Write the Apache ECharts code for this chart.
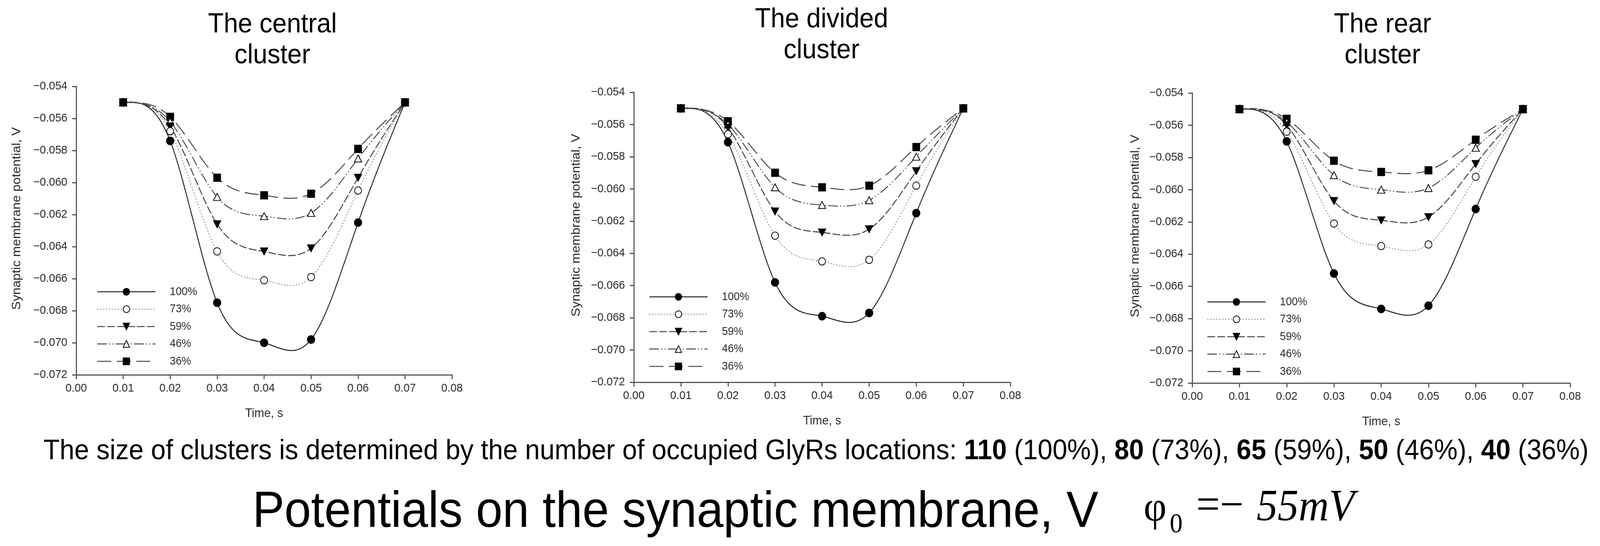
<!DOCTYPE html>
<html>
<head>
<meta charset="utf-8">
<script src="https://cdn.jsdelivr.net/npm/echarts@6/dist/echarts.min.js"></script>
<style>
html,body{margin:0;padding:0;background:#fff;overflow:hidden;}
#c{width:4347px;height:1397px;transform-origin:0 0;}
</style>
</head>
<body>
<div id="c"></div>
<script>
// ---------- data ----------
const times = [0.01, 0.02, 0.03, 0.04, 0.05, 0.06, 0.07];
const seriesNames = ['100%', '73%', '59%', '46%', '36%'];
const panelTitles = ['The central\ncluster', 'The divided\ncluster', 'The rear\ncluster'];

const central100 = [-0.0550, -0.0574, -0.0675, -0.0700, -0.0698, -0.0625, -0.0550];
const central73  = [-0.0550, -0.0568, -0.0643, -0.0661, -0.0659, -0.0605, -0.0550];
const central59  = [-0.0550, -0.0565, -0.0626, -0.0643, -0.0641, -0.0597, -0.0550];
const central46  = [-0.0550, -0.0562, -0.0609, -0.0621, -0.0619, -0.0585, -0.0550];
const central36  = [-0.0550, -0.0559, -0.0597, -0.0608, -0.0607, -0.0579, -0.0550];

const divided100 = [-0.0550, -0.0571, -0.0658, -0.0679, -0.0677, -0.0615, -0.0550];
const divided73  = [-0.0550, -0.0566, -0.0629, -0.0645, -0.0644, -0.0598, -0.0550];
const divided59  = [-0.0550, -0.0562, -0.0614, -0.0627, -0.0625, -0.0589, -0.0550];
const divided46  = [-0.0550, -0.0560, -0.0599, -0.0610, -0.0607, -0.0580, -0.0550];
const divided36  = [-0.0550, -0.0558, -0.0590, -0.0599, -0.0598, -0.0574, -0.0550];

const rear100 = [-0.0550, -0.0570, -0.0652, -0.0674, -0.0672, -0.0612, -0.0550];
const rear73  = [-0.0550, -0.0564, -0.0621, -0.0635, -0.0634, -0.0592, -0.0550];
const rear59  = [-0.0550, -0.0560, -0.0607, -0.0619, -0.0617, -0.0584, -0.0550];
const rear46  = [-0.0550, -0.0558, -0.0591, -0.0600, -0.0599, -0.0574, -0.0550];
const rear36  = [-0.0550, -0.0556, -0.0582, -0.0589, -0.0588, -0.0569, -0.0550];

const panelValues = [
  [central100, central73, central59, central46, central36],
  [divided100, divided73, divided59, divided46, divided36],
  [rear100, rear73, rear59, rear46, rear36]
];

// ---------- layout & style (designed on the 4347 x 1397 reference canvas) ----------
const DESIGN_W = 4347, DESIGN_H = 1397;
const FONT = "'Liberation Sans', Arial, Helvetica, sans-serif";
const SERIF = "'Liberation Serif', 'Times New Roman', Times, serif";
const gridPos = [
  {left: 207, top: 221, width: 1021, height: 738},
  {left: 1722, top: 236, width: 1023, height: 742},
  {left: 3239, top: 238, width: 1027, height: 742}
];
const titlePos = [{left: 740, top: 24}, {left: 2232, top: 11}, {left: 3756, top: 24}];
const legendPos = [{left: 263, top: 732}, {left: 1763, top: 745}, {left: 3279, top: 758}];
const yNameGap = [145, 140, 138];

const looks = [
  {symbol: 'circle', size: 20, fill: '#000', line: '#222', width: 2.5, dash: 'solid'},
  {symbol: 'circle', size: 19, fill: '#fff', line: '#888', width: 2.4, dash: [3, 5]},
  {symbol: 'path://M0,0L20,0L10,18Z', size: [20, 18], fill: '#000', line: '#444', width: 2.6, dash: [21, 6]},
  {symbol: 'triangle', size: [20, 18], fill: '#fff', line: '#444', width: 2.4, dash: [26, 6, 3, 6, 3, 6]},
  {symbol: 'rect', size: 19, fill: '#000', line: '#4a4a4a', width: 2.6, dash: [38, 15]}
];
const axisGray = '#555';
const labelGray = '#2a2a2a';

// natural cubic spline through the data points -> bezier segments (data space)
function splineSegments(xs, ys) {
  const n = xs.length;
  const h = [];
  for (let i = 0; i < n - 1; i++) h.push(xs[i + 1] - xs[i]);
  const M = new Array(n).fill(0);
  if (n > 2) {
    const a = [], b = [], c = [], d = [];
    for (let i = 1; i < n - 1; i++) {
      a.push(h[i - 1]); b.push(2 * (h[i - 1] + h[i])); c.push(h[i]);
      d.push(6 * ((ys[i + 1] - ys[i]) / h[i] - (ys[i] - ys[i - 1]) / h[i - 1]));
    }
    const m = b.length;
    for (let i = 1; i < m; i++) {
      const w = a[i] / b[i - 1];
      b[i] -= w * c[i - 1];
      d[i] -= w * d[i - 1];
    }
    const sol = new Array(m);
    sol[m - 1] = d[m - 1] / b[m - 1];
    for (let i = m - 2; i >= 0; i--) sol[i] = (d[i] - c[i] * sol[i + 1]) / b[i];
    for (let i = 0; i < m; i++) M[i + 1] = sol[i];
  }
  const segs = [];
  for (let i = 0; i < n - 1; i++) {
    const s = (ys[i + 1] - ys[i]) / h[i];
    const d0 = s - h[i] * (2 * M[i] + M[i + 1]) / 6;
    const d1 = s + h[i] * (M[i] + 2 * M[i + 1]) / 6;
    segs.push({
      c1: [xs[i] + h[i] / 3, ys[i] + d0 * h[i] / 3],
      c2: [xs[i + 1] - h[i] / 3, ys[i + 1] - d1 * h[i] / 3],
      end: [xs[i + 1], ys[i + 1]]
    });
  }
  return segs;
}

const grids = gridPos.map(g => Object.assign({containLabel: false}, g));

const xAxes = gridPos.map((g, k) => ({
  type: 'value', gridIndex: k, min: 0, max: 0.08, interval: 0.01,
  name: 'Time, s', nameLocation: 'middle', nameGap: 83,
  nameTextStyle: {fontSize: 32, color: labelGray, fontFamily: FONT},
  axisLine: {show: true, onZero: false, lineStyle: {color: axisGray, width: 3}},
  axisTick: {show: true, length: 11, lineStyle: {color: axisGray, width: 3}},
  axisLabel: {fontSize: 30, color: labelGray, fontFamily: FONT, margin: 20,
    formatter: v => v.toFixed(2)},
  splitLine: {show: false}
}));

const yAxes = gridPos.map((g, k) => ({
  type: 'value', gridIndex: k, min: -0.072, max: -0.054, interval: 0.002,
  name: 'Synaptic membrane potential, V', nameLocation: 'middle', nameRotate: 90,
  nameGap: yNameGap[k],
  nameTextStyle: {fontSize: 33, color: labelGray, fontFamily: FONT, padding: [0, 0, 0, 62]},
  axisLine: {show: true, onZero: false, lineStyle: {color: axisGray, width: 3}},
  axisTick: {show: true, length: 11, lineStyle: {color: axisGray, width: 3}},
  axisLabel: {fontSize: 30, color: labelGray, fontFamily: FONT, margin: 24,
    formatter: v => '\u2212' + Math.abs(v).toFixed(3)},
  splitLine: {show: false}
}));

const series = [];
panelValues.forEach((vals, k) => {
  vals.forEach((arr, i) => {
    const lk = looks[i];
    const pts = times.map((t, j) => [t, arr[j]]);
    // spline curve through the points
    series.push({
      type: 'custom', xAxisIndex: k, yAxisIndex: k, data: pts,
      encode: {x: 0, y: 1}, silent: true, z: 2,
      renderItem: (params, api) => {
        if (params.dataIndex !== 0) return null;
        const segs = splineSegments(times, arr);
        const p0 = api.coord([times[0], arr[0]]);
        let d = 'M' + p0[0] + ',' + p0[1];
        segs.forEach(s => {
          const a = api.coord(s.c1), b = api.coord(s.c2), e = api.coord(s.end);
          d += 'C' + a[0] + ',' + a[1] + ',' + b[0] + ',' + b[1] + ',' + e[0] + ',' + e[1];
        });
        return {
          type: 'path', shape: {pathData: d},
          style: {stroke: lk.line, lineWidth: lk.width, fill: 'none',
            lineDash: lk.dash === 'solid' ? null : lk.dash}
        };
      }
    });
    // markers
    series.push({
      type: 'line', name: seriesNames[i], xAxisIndex: k, yAxisIndex: k,
      data: pts, smooth: false,
      symbol: lk.symbol, symbolSize: lk.size, showAllSymbol: true,
      lineStyle: {color: lk.line, width: lk.width, type: lk.dash, opacity: 0},
      itemStyle: {color: lk.fill, borderColor: '#000', borderWidth: 2},
      emphasis: {disabled: true},
      z: 3 + (4 - i)
    });
  });
});

const legends = legendPos.map(p => ({
  data: seriesNames.map((n, i) => ({
    name: n,
    lineStyle: {color: looks[i].line, width: looks[i].width, type: looks[i].dash, opacity: 1}
  })),
  orient: 'vertical', left: p.left, top: p.top,
  itemWidth: 158, itemHeight: 22, itemGap: 15.5, padding: 0,
  selectedMode: false,
  textStyle: {fontSize: 29, color: labelGray, fontFamily: FONT, padding: [0, 0, 0, 34]}
}));

const titles = titlePos.map((p, k) => ({
  text: panelTitles[k], left: p.left, top: p.top, textAlign: 'center', padding: 0,
  textStyle: {fontSize: 70, fontWeight: 'normal', color: '#000', fontFamily: FONT, lineHeight: 79}
}));

const graphics = [
  {
    type: 'text', x: 118, y: 1155,
    style: {
      text: 'The size of clusters is determined by the number of occupied GlyRs locations: {b|110} (100%), {b|80} (73%), {b|65} (59%), {b|50} (46%), {b|40} (36%)',
      fontSize: 72, fontFamily: FONT, fill: '#000', verticalAlign: 'middle', align: 'left',
      rich: {b: {fontSize: 72, fontFamily: FONT, fontWeight: 'bold', fill: '#000'}}
    }
  },
  {
    type: 'text', x: 686, y: 1312,
    style: {text: 'Potentials on the synaptic membrane, V', fontSize: 130, fontFamily: FONT,
      fill: '#000', verticalAlign: 'middle', align: 'left'}
  },
  {
    type: 'text', x: 3107, y: 1304,
    style: {text: '\u03C6', fontSize: 108, fontFamily: SERIF, fill: '#000', verticalAlign: 'middle', align: 'left'}
  },
  {
    type: 'text', x: 3178, y: 1344,
    style: {text: '0', fontSize: 70, fontFamily: SERIF, fill: '#000', verticalAlign: 'middle', align: 'left'}
  },
  {
    type: 'text', x: 3250, y: 1298,
    style: {text: '=\u2212', fontSize: 114, fontFamily: SERIF, fill: '#000', verticalAlign: 'middle', align: 'left'}
  },
  {
    type: 'text', x: 3414, y: 1301,
    style: {text: '55mV', fontSize: 114, fontFamily: SERIF, fontStyle: 'italic', fill: '#000', verticalAlign: 'middle', align: 'left'}
  }
];

// fit the reference-sized drawing into the actual browser viewport
const box = document.getElementById('c');
const sx = Math.min(1, window.innerWidth / DESIGN_W);
const sy = Math.min(1, window.innerHeight / DESIGN_H);
box.style.transform = 'scale(' + sx + ',' + sy + ')';

const chart = echarts.init(box, null, {renderer: 'canvas', width: DESIGN_W, height: DESIGN_H});
chart.setOption({
  animation: false,
  backgroundColor: '#ffffff',
  title: titles,
  legend: legends,
  grid: grids,
  xAxis: xAxes,
  yAxis: yAxes,
  series: series,
  graphic: graphics
});
</script>
</body>
</html>
